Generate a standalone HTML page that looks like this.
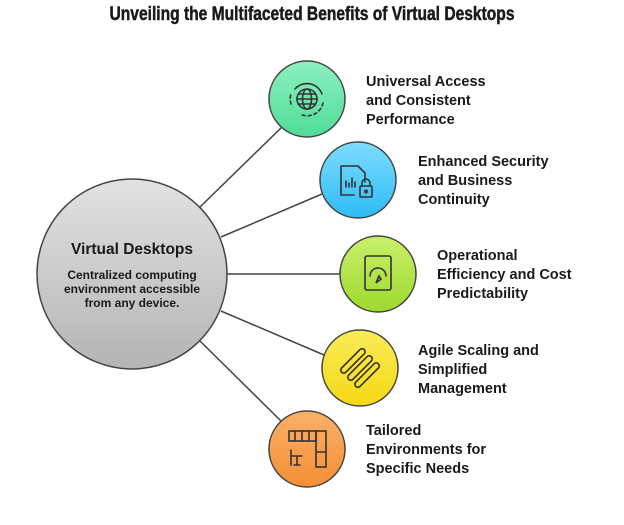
<!DOCTYPE html>
<html><head><meta charset="utf-8"><style>html,body{margin:0;padding:0;background:#fff}svg{display:block}text{font-family:"Liberation Sans",Arial,sans-serif;font-weight:bold;fill:#1a1a1a}</style></head>
<body>
<svg width="624" height="525" viewBox="0 0 624 525" xmlns="http://www.w3.org/2000/svg">
<defs>
<linearGradient id="g0" x1="0" y1="0" x2="0" y2="1"><stop offset="0" stop-color="#e2e2e2"/><stop offset="1" stop-color="#b4b4b4"/></linearGradient>
<linearGradient id="g1" x1="0" y1="0" x2="0" y2="1"><stop offset="0" stop-color="#8ef0c0"/><stop offset="1" stop-color="#4fdc97"/></linearGradient>
<linearGradient id="g2" x1="0" y1="0" x2="0" y2="1"><stop offset="0" stop-color="#7fdcff"/><stop offset="1" stop-color="#2cbcf5"/></linearGradient>
<linearGradient id="g3" x1="0" y1="0" x2="0" y2="1"><stop offset="0" stop-color="#c9f06a"/><stop offset="1" stop-color="#9ed92e"/></linearGradient>
<linearGradient id="g4" x1="0" y1="0" x2="0" y2="1"><stop offset="0" stop-color="#fbec58"/><stop offset="1" stop-color="#f5d815"/></linearGradient>
<linearGradient id="g5" x1="0" y1="0" x2="0" y2="1"><stop offset="0" stop-color="#fbb06a"/><stop offset="1" stop-color="#f58f35"/></linearGradient>
</defs>
<text x="312" y="20" text-anchor="middle" font-size="19" textLength="405" lengthAdjust="spacingAndGlyphs" stroke="#1a1a1a" stroke-width="0.5">Unveiling the Multifaceted Benefits of Virtual Desktops</text>
<g stroke="#444" stroke-width="1.5">
<line x1="200" y1="207" x2="282" y2="127"/>
<line x1="221" y1="237" x2="322" y2="194"/>
<line x1="227" y1="274" x2="340" y2="274"/>
<line x1="221" y1="311" x2="324" y2="355"/>
<line x1="200" y1="341" x2="282" y2="422"/>
</g>
<g stroke="#444" stroke-width="1.5">
<circle cx="132" cy="274" r="95" fill="url(#g0)"/>
<circle cx="307" cy="99" r="38" fill="url(#g1)"/>
<circle cx="358" cy="180" r="38" fill="url(#g2)"/>
<circle cx="378" cy="274" r="38" fill="url(#g3)"/>
<circle cx="360" cy="368" r="38" fill="url(#g4)"/>
<circle cx="307" cy="449" r="38" fill="url(#g5)"/>
</g>
<g fill="none" stroke="#333" stroke-width="1.6" stroke-linecap="round">
<circle cx="307" cy="99" r="10"/><ellipse cx="307" cy="99" rx="4.5" ry="10"/><line x1="297" y1="99" x2="317" y2="99"/><line x1="299" y1="94" x2="315" y2="94"/><line x1="299" y1="104" x2="315" y2="104"/>
<path d="M295 89 A16 16 0 0 1 322 94" /><path d="M323 103 A16 16 0 0 1 300 114" stroke-dasharray="3 3"/><path d="M291 104 A16 16 0 0 1 291 94" stroke-dasharray="3 3"/>
<path d="M341 166 h17 l7 7 v9 M341 166 v29 h13"/><path d="M346 187 v-6 M349 187 v-4 M352 187 v-9 M355 187 v-5"/><rect x="360" y="186" width="12" height="11" rx="1"/><path d="M362 186 v-3 a4 4 0 0 1 8 0 v3"/><circle cx="366" cy="191.5" r="1.2"/>
<rect x="365" y="256" width="26" height="34" rx="2"/><path d="M370 276 a8 8 0 0 1 16 0"/><path d="M376 283 l3 -7 l2 3 z"/>
<g transform="rotate(-45 360 368)"><rect x="344" y="355" width="32" height="6" rx="3"/><rect x="344" y="365" width="32" height="6" rx="3"/><rect x="344" y="375" width="32" height="6" rx="3"/></g>
<rect x="289" y="431" width="27" height="10"/><path d="M295 431 v10 M302 431 v10 M309 431 v10"/><rect x="316" y="431" width="10" height="36"/><path d="M316 452 h10"/><path d="M291 450 v15 M291 456 h11 M297 456 v9 M294 465 h6"/>
</g>
<text x="132" y="254" text-anchor="middle" font-size="15.5">Virtual Desktops</text>
<g font-size="12" text-anchor="middle"><text x="132" y="279">Centralized computing</text><text x="132" y="293">environment accessible</text><text x="132" y="307">from any device.</text></g>
<g font-size="14.5">
<text x="366" y="86">Universal Access</text><text x="366" y="105">and Consistent</text><text x="366" y="124">Performance</text>
<text x="418" y="166">Enhanced Security</text><text x="418" y="185">and Business</text><text x="418" y="204">Continuity</text>
<text x="437" y="260">Operational</text><text x="437" y="279">Efficiency and Cost</text><text x="437" y="298">Predictability</text>
<text x="418" y="355">Agile Scaling and</text><text x="418" y="374">Simplified</text><text x="418" y="393">Management</text>
<text x="366" y="435">Tailored</text><text x="366" y="454">Environments for</text><text x="366" y="473">Specific Needs</text>
</g>
</svg>
</body></html>
